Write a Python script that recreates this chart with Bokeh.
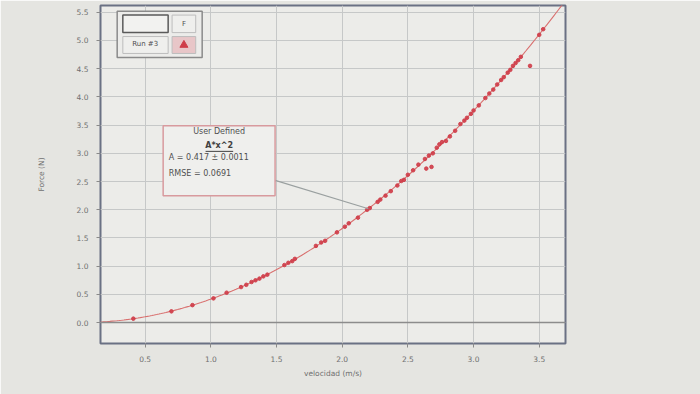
import numpy as np
from bokeh.plotting import figure
from bokeh.models import FixedTicker, NumeralTickFormatter, Span, Label
from bokeh.embed import file_html
from bokeh.resources import INLINE

# ---- data ----
velocity = [0.41, 0.70, 0.86, 1.02, 1.12, 1.23, 1.27, 1.31, 1.34, 1.37, 1.40, 1.43,
            1.56, 1.59, 1.62, 1.64, 1.80, 1.84, 1.87, 1.96, 2.02, 2.05, 2.12, 2.19,
            2.21, 2.27, 2.29, 2.33, 2.37, 2.42, 2.45, 2.47, 2.50, 2.54, 2.58, 2.63,
            2.64, 2.66, 2.68, 2.69, 2.72, 2.74, 2.76, 2.79, 2.82, 2.86, 2.90, 2.93,
            2.95, 2.98, 3.00, 3.04, 3.09, 3.12, 3.15, 3.18, 3.21, 3.23, 3.26, 3.28,
            3.30, 3.32, 3.34, 3.36, 3.43, 3.50, 3.53]
force = [0.07, 0.20, 0.31, 0.43, 0.53, 0.63, 0.67, 0.72, 0.75, 0.78, 0.82, 0.85,
         1.02, 1.06, 1.09, 1.13, 1.36, 1.42, 1.45, 1.60, 1.70, 1.76, 1.86, 2.00,
         2.03, 2.14, 2.18, 2.25, 2.33, 2.43, 2.51, 2.53, 2.62, 2.70, 2.80, 2.90,
         2.73, 2.96, 2.76, 3.00, 3.10, 3.16, 3.20, 3.22, 3.30, 3.40, 3.52, 3.58,
         3.63, 3.70, 3.76, 3.85, 3.98, 4.06, 4.13, 4.22, 4.30, 4.35, 4.43, 4.48,
         4.55, 4.60, 4.65, 4.71, 4.55, 5.10, 5.20]
fit_A = 0.417
fit_label = "A*x^2"
fit_text = ["User Defined", "A = 0.417 \u00b1 0.0011", "RMSE = 0.0691"]
run_name = "Run #3"
col_name = "F"
x_ticks = [0.5, 1.0, 1.5, 2.0, 2.5, 3.0, 3.5]
y_ticks = [0.0, 0.5, 1.0, 1.5, 2.0, 2.5, 3.0, 3.5, 4.0, 4.5, 5.0, 5.5]

FONT = "DejaVu Sans"
RED = "#cf3d49"
GRAY_TXT = "#707070"

p = figure(width=700, height=394, output_backend="svg", toolbar_location=None,
           x_range=(0.16, 3.70), y_range=(-0.37, 5.62),
           min_border_left=100, min_border_right=135, min_border_top=5,
           min_border_bottom=51)
p.background_fill_color = "#ecece9"
p.border_fill_color = "#e5e5e1"
p.outline_line_color = "#6a7184"
p.outline_line_width = 2

for ax in (p.xaxis[0], p.yaxis[0]):
    ax.axis_line_color = None
    ax.major_tick_line_color = "#8a8a8a"
    ax.major_tick_out = 4
    ax.major_tick_in = 0
    ax.minor_tick_line_color = None
    ax.major_label_text_font = FONT
    ax.major_label_text_font_size = "7.5px"
    ax.major_label_text_color = GRAY_TXT
    ax.axis_label_text_font = FONT
    ax.axis_label_text_font_size = "7.5px"
    ax.axis_label_text_color = GRAY_TXT
    ax.axis_label_text_font_style = "normal"

p.xaxis.ticker = FixedTicker(ticks=x_ticks)
p.yaxis.ticker = FixedTicker(ticks=y_ticks)
p.xaxis.formatter = NumeralTickFormatter(format="0.0")
p.yaxis.formatter = NumeralTickFormatter(format="0.0")
p.xaxis.major_label_standoff = 8
p.yaxis.major_label_standoff = 8
p.xaxis.axis_label = "velocidad (m/s)"
p.yaxis.axis_label = "Force (N)"
p.yaxis.axis_label_standoff = 28
p.xaxis.axis_label_standoff = 4

p.grid.grid_line_color = "#c6c8c8"
p.grid.grid_line_width = 1
p.xgrid.ticker = FixedTicker(ticks=x_ticks)
p.ygrid.ticker = FixedTicker(ticks=y_ticks)
p.add_layout(Span(location=0.0, dimension="width", line_color="#8c8c8c", line_width=1.5))

# fit curve
xf = np.linspace(0.16, 3.70, 200)
p.line(xf, fit_A * xf ** 2, line_color="#d9706f", line_width=1.1)

# data points
p.scatter(velocity, force, size=3.6, fill_color=RED, line_color=RED, alpha=0.9)

# pointer line from stats box to curve
p.line([1.49, 2.20], [2.52, fit_A * 2.20 ** 2], line_color="#9aa0a0", line_width=1.2)

# stats box
p.quad(left=0.637, right=1.489, bottom=2.25, top=3.49, fill_color="#efefed",
       line_color="#d89a9e", line_width=1.5)
p.add_layout(Label(x=1.063, y=3.30, text=fit_text[0], text_align="center",
                   text_font=FONT, text_font_size="8px", text_color="#505050"))
p.add_layout(Label(x=1.063, y=3.06, text=fit_label, text_align="center",
                   text_font=FONT, text_font_size="8px", text_font_style="bold",
                   text_color="#404040"))
p.line([0.96, 1.17], [3.035, 3.035], line_color="#404040", line_width=1)
p.add_layout(Label(x=0.68, y=2.84, text=fit_text[1], text_font=FONT,
                   text_font_size="8px", text_color="#505050"))
p.add_layout(Label(x=0.68, y=2.56, text=fit_text[2], text_font=FONT,
                   text_font_size="8px", text_color="#505050"))

# legend table (top-left)
p.quad(left=0.287, right=0.934, bottom=4.70, top=5.52, fill_color="#ececea",
       line_color="#8a8a8a", line_width=1.5)
p.quad(left=0.33, right=0.675, bottom=5.14, top=5.45, fill_color="#f2f2f0",
       line_color="#5a5a5a", line_width=1.5)
p.quad(left=0.705, right=0.885, bottom=5.14, top=5.45, fill_color="#efefed",
       line_color="#bdbdbd", line_width=1)
p.quad(left=0.33, right=0.675, bottom=4.77, top=5.07, fill_color="#efefed",
       line_color="#bdbdbd", line_width=1)
p.quad(left=0.705, right=0.885, bottom=4.77, top=5.07, fill_color="#e8c6c8",
       line_color="#bdbdbd", line_width=1)
p.scatter([0.795], [4.92], marker="triangle", size=8, fill_color=RED, line_color=RED)
p.add_layout(Label(x=0.795, y=5.22, text=col_name, text_align="center",
                   text_font=FONT, text_font_size="7px", text_color="#505050"))
p.add_layout(Label(x=0.5, y=4.86, text=run_name, text_align="center",
                   text_font=FONT, text_font_size="7px", text_color="#505050"))

open("out.html", "w").write(file_html(p, INLINE))
